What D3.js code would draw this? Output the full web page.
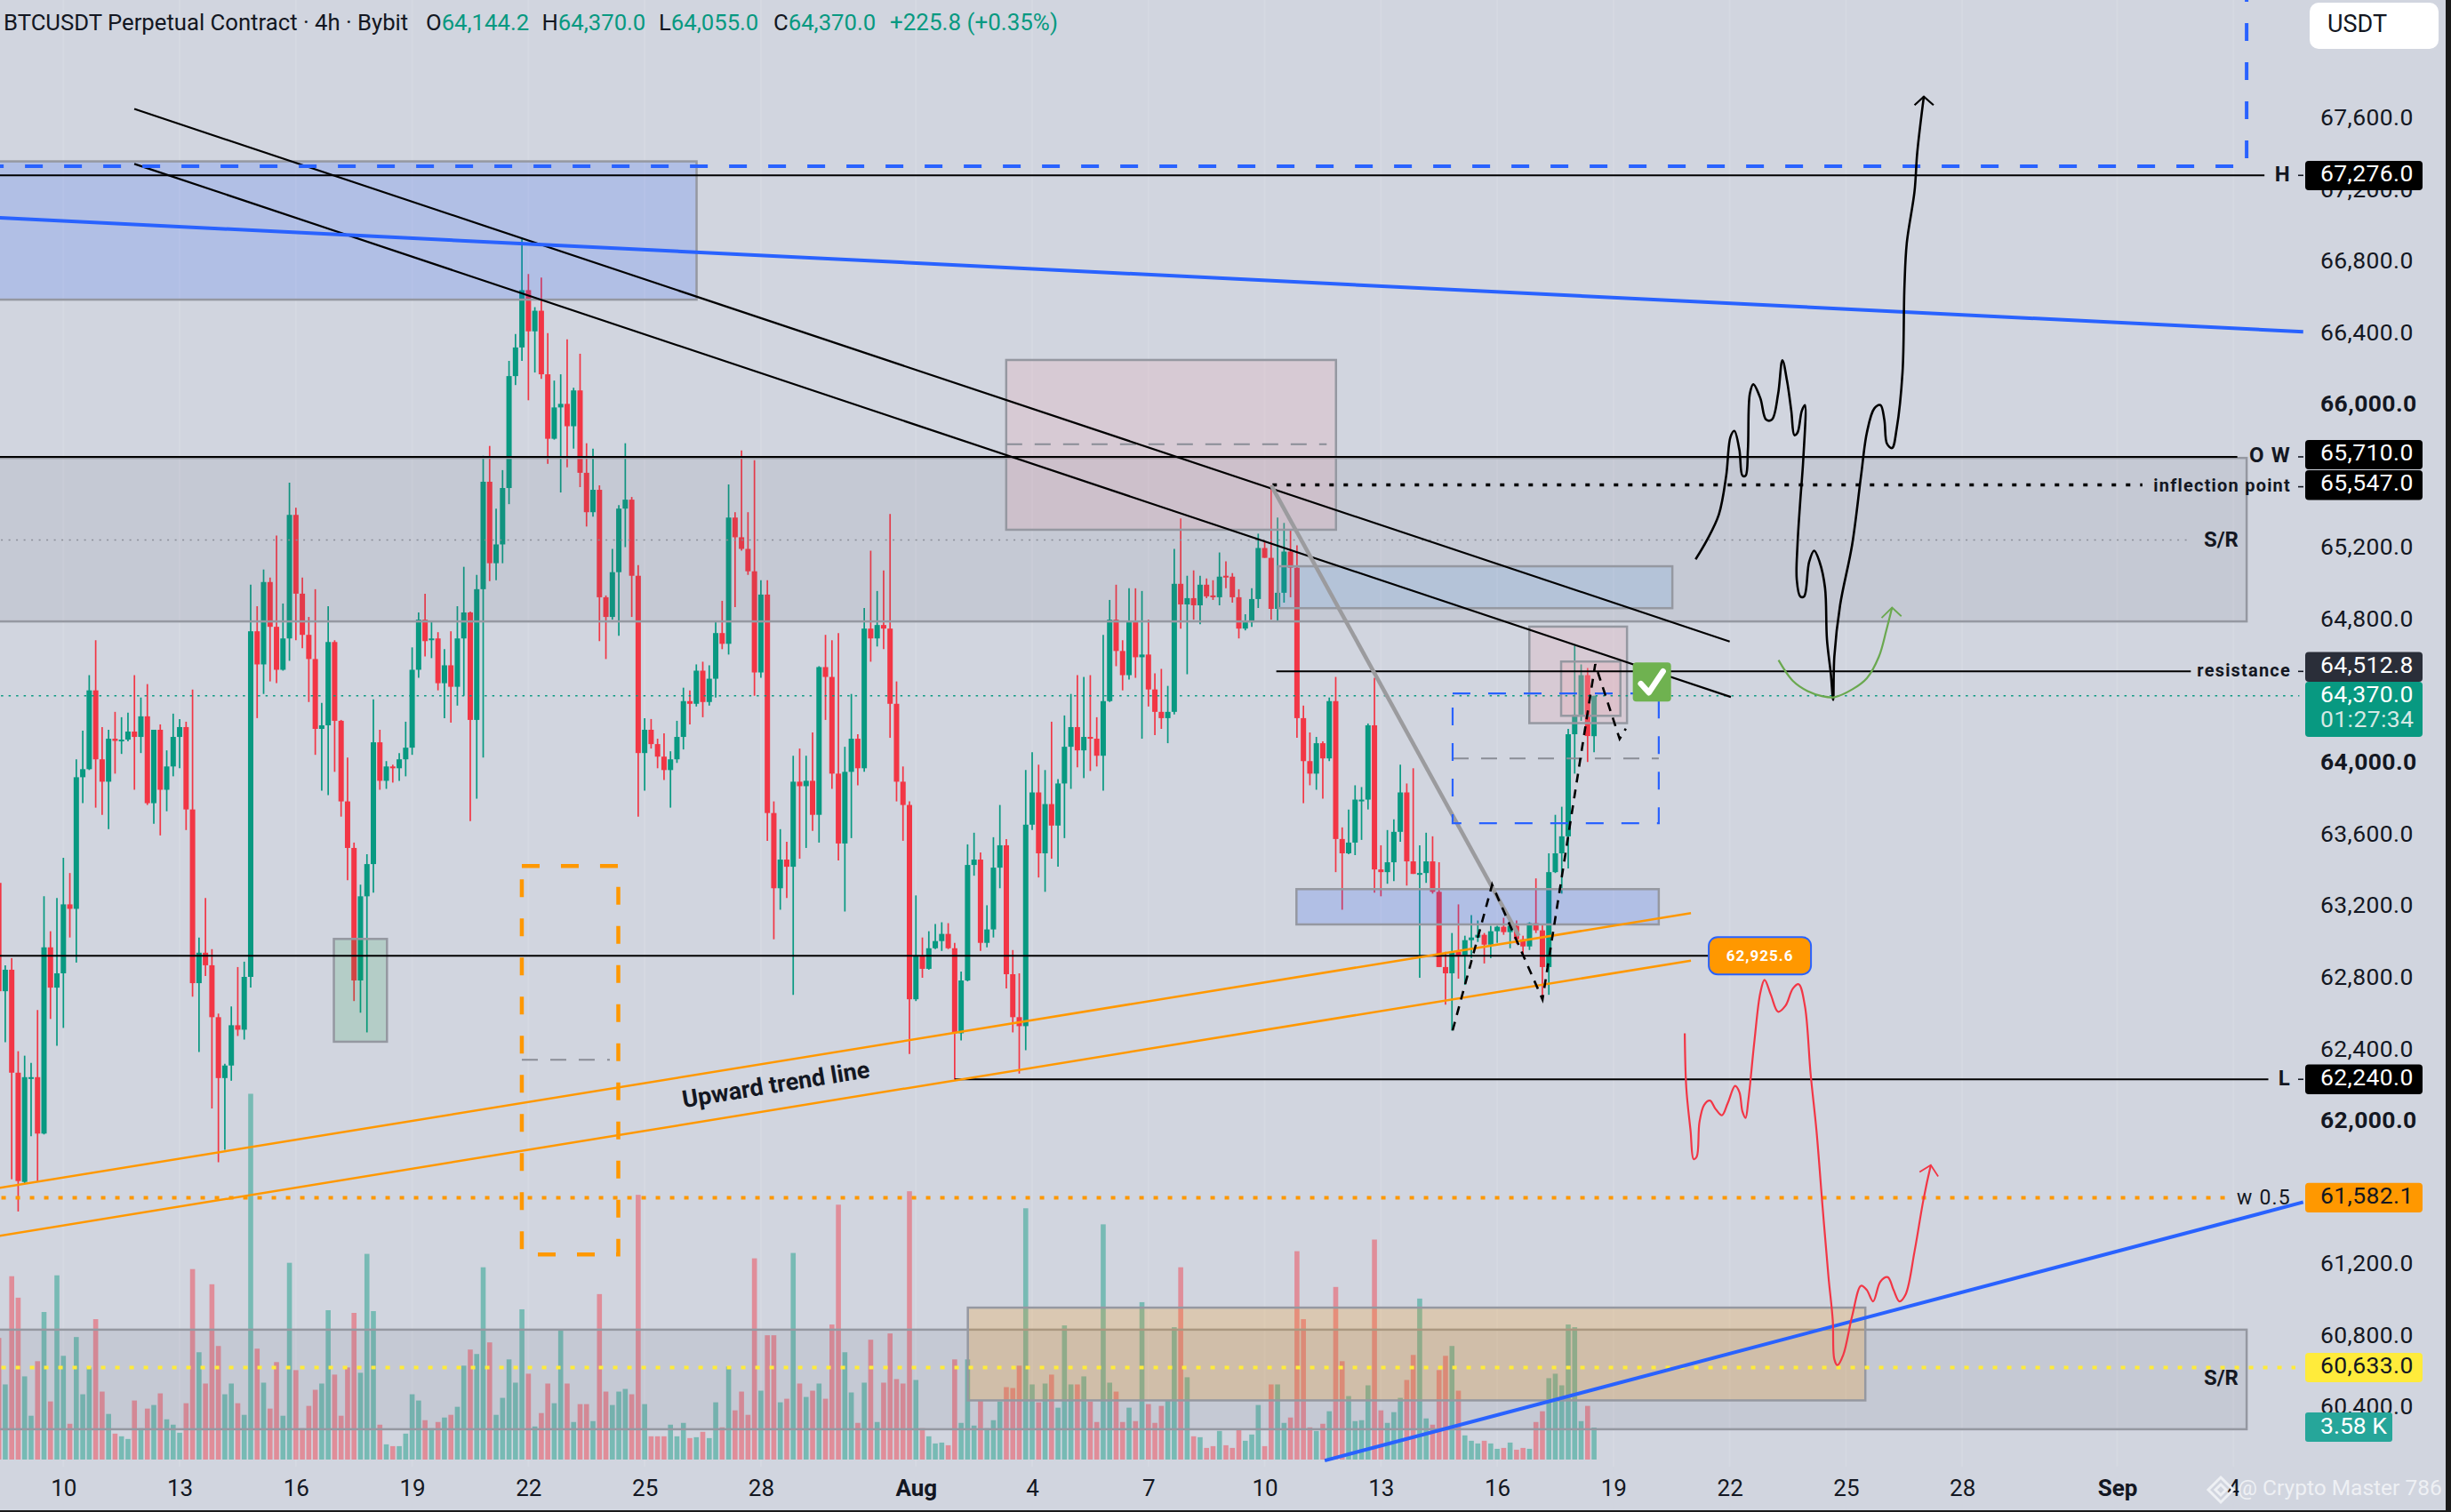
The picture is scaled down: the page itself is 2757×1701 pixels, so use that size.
<!DOCTYPE html>
<html>
<head>
<meta charset="utf-8">
<script src="https://cdn.jsdelivr.net/npm/d3@7"></script>
<style>
  html, body { margin: 0; padding: 0; background: #d1d5df; overflow: hidden; }
  text { font-family: Roboto, "Liberation Sans", sans-serif; }
</style>
</head>
<body>
<div id="chart"></div>
<script>
// 4h candles: [open, high, low, close], first bar is 8 Jul 08:00
const ohlc = [
[63325,63325,62680,62720],[62720,62865,62435,62840],[62840,62905,61670,62265],[62265,62385,61490,61660],
[61655,62360,61645,62240],[62235,62320,61910,62240],[62240,62615,61655,61925],[61925,63250,61920,62965],
[62965,63055,62565,62740],[62740,63240,62415,62820],[62820,63465,62515,63205],[63205,63380,63020,63180],
[63180,64015,62880,63915],[63915,64175,63770,63960],[63960,64485,63955,64400],[64400,64680,63745,64015],
[64015,64195,63705,63890],[63890,64180,63625,64130],[64130,64280,63935,64118],[64118,64250,64045,64125],
[64125,64275,64115,64170],[64170,64485,63845,64140],[64140,64360,64050,64255],[64255,64435,63760,63770],
[63770,64180,63655,64180],[64180,64210,63590,63845],[63845,64065,63725,63975],[63975,64270,63920,64140],
[64140,64240,63965,64195],[64195,64225,63620,63735],[63735,64405,62690,62765],[62765,63020,62380,62935],
[62935,63240,62805,62865],[62865,62955,62065,62575],[62575,62595,61765,62235],[62235,62315,61835,62305],
[62305,62635,62220,62530],[62530,62855,62470,62505],[62505,62885,62450,62800],[62800,64990,62740,64730],
[64730,64870,64245,64545],[64545,65075,64380,65005],[65005,65030,64450,64755],[64755,65265,64440,64515],
[64515,64885,64510,64690],[64690,65560,64565,65380],[65380,65420,64680,64940],[64940,65030,64635,64710],
[64710,64810,64335,64575],[64575,64965,64040,64185],[64185,64330,63840,64205],[64205,64870,63815,64670],
[64670,64680,63945,64230],[64230,64235,63695,63780],[63780,64025,63340,63520],[63520,63550,62665,62780],
[62780,63315,62600,63250],[63250,63485,62490,63430],[63430,64350,63270,64110],[64110,64180,63845,63895],
[63895,64005,63850,63975],[63975,63985,63885,63965],[63965,64050,63895,64015],[64015,64225,63920,64080],
[64080,64640,64040,64515],[64515,64835,64470,64795],[64795,64940,64590,64675],[64680,64785,64580,64690],
[64690,64725,64400,64440],[64440,64630,64245,64540],[64540,64730,64220,64420],[64420,64870,64315,64690],
[64690,65090,64370,64835],[64835,64840,63670,64235],[64235,65045,63795,64965],[64965,65710,64025,65565],
[65565,65765,65010,65110],[65110,65415,65015,65215],[65215,65630,65110,65530],[65530,66240,65440,66155],
[66155,66390,66105,66315],[66315,66930,66240,66635],[66635,66725,66020,66405],[66405,66540,66175,66520],
[66520,66705,66140,66165],[66165,66395,65665,65805],[65805,66130,65800,65980],[65980,66165,65505,66000],
[66000,66360,65645,65875],[65875,66090,65750,66075],[66075,66280,65535,65615],[65615,65780,65315,65395],
[65395,65750,65370,65520],[65520,65545,64675,64920],[64920,64930,64575,64810],[64810,65190,64795,65060],
[65060,65435,64705,65415],[65415,65780,65200,65465],[65465,65480,64810,65040],[65040,65100,63695,64050],
[64050,64245,63840,64180],[64180,64240,64075,64100],[64100,64130,63965,64030],[64030,64160,63900,63955],
[63955,64060,63745,64015],[64015,64230,63995,64140],[64140,64415,64070,64340],[64340,64400,64210,64325],
[64325,64545,64310,64510],[64510,64560,64250,64335],[64335,64540,64315,64465],[64465,64790,64360,64720],
[64720,64900,64630,64660],[64660,65550,64600,65365],[65365,65395,64865,65255],[65255,65740,65180,65190],
[65190,65395,65045,65065],[65065,65685,64370,64500],[64500,65015,64470,64935],[64935,65015,63560,63715],
[63715,63780,63010,63295],[63295,63625,63175,63455],[63455,63555,63240,63415],[63415,64035,62700,63890],
[63890,64075,63460,63865],[63865,64035,63520,63895],[63895,64165,63615,63705],[63705,64535,63550,64530],
[64530,64710,64235,64475],[64475,64680,63850,63935],[63935,64720,63450,63545],[63545,64085,63165,63945],
[63945,64380,63575,64130],[64130,64155,63870,63965],[63965,64860,63945,64745],[64745,65180,64560,64690],
[64690,64955,64645,64765],[64765,65070,64630,64745],[64745,65385,64135,64325],[64325,64450,63780,63890],
[63890,63975,63560,63760],[63760,63780,62370,62675],[62675,63255,62665,62920],[62920,63020,62795,62845],
[62845,63055,62840,62960],[62960,63095,62955,63000],[63000,63105,62945,63040],[63040,63100,62955,62960],
[62960,62990,62225,62485],[62485,62830,62445,62780],[62780,63540,62775,63425],[63425,63605,63365,63455],
[63455,63495,62945,62990],[62990,63200,62965,63065],[63065,63580,63020,63410],[63410,63760,63295,63535],
[63535,63570,62735,62815],[62815,62950,62490,62575],[62575,62820,62260,62525],[62525,63955,62390,63650],
[63650,64055,63620,63830],[63830,63985,63355,63490],[63490,63955,63275,63765],[63765,64225,63460,63645],
[63645,63905,63415,63880],[63880,64260,63575,64085],[64085,64380,63850,64195],[64195,64485,63970,64065],
[64065,64475,63910,64140],[64140,64485,63950,64130],[64130,64250,63975,64035],[64035,64710,63840,64340],
[64340,64905,64335,64795],[64795,64990,64535,64620],[64620,64680,64400,64485],[64485,64970,64460,64785],
[64785,64970,64470,64585],[64585,64955,64130,64600],[64600,64795,64310,64405],[64405,64495,64150,64280],
[64280,64520,64185,64245],[64245,64425,64105,64280],[64280,65190,64265,64995],[64995,65360,64745,64880],
[64880,65040,64490,64915],[64915,65070,64795,64875],[64875,65040,64770,64990],[64990,65025,64915,64925],
[64930,65015,64905,64920],[64920,65170,64875,65035],[65040,65120,64970,65035],[65035,65055,64890,64920],
[64920,64965,64690,64745],[64745,64825,64735,64780],[64780,64970,64755,64910],[64910,65275,64860,65195],
[65195,65230,65140,65140],[65140,65545,64795,64855],[64855,65365,64785,64945],[64945,65335,64890,65175],
[65175,65295,64920,65085],[65085,65210,64135,64245],[64245,64315,63770,64005],[64005,64165,63870,63935],
[63935,64140,63845,64105],[64105,64115,63795,64020],[64020,64360,64005,64340],[64340,64475,63385,63570],
[63570,63635,63175,63490],[63490,63735,63485,63550],[63550,63870,63480,63790],[63785,63860,63565,63790],
[63790,64215,63735,64205],[64205,64470,63270,63400],[63400,63535,63250,63385],[63385,63620,63320,63440],
[63440,63680,63335,63610],[63610,63985,63555,63830],[63830,63880,63310,63445],[63445,63965,63375,63375],
[63375,63535,62795,63380],[63380,63605,63325,63445],[63445,63585,63265,63275],[63275,63440,62855,62855],
[62855,62940,62645,62820],[62820,63045,62500,62940],[62940,63205,62790,62920],[62920,63030,62755,63005],
[63005,63145,62905,63020],[63020,63115,62995,63035],[63035,63045,62875,62980],[62980,63085,62905,63055],
[63055,63085,62990,63080],[63080,63130,63035,63050],[63050,63115,62960,63085],[63085,63115,62985,63010],
[63010,63030,62920,62970],[62970,63105,62950,63100],[63100,63350,63045,63060],[63060,63095,62690,62855],
[62855,63490,62700,63385],[63385,63705,63380,63490],[63490,63750,63265,63585],[63585,64185,63405,64155],
[64155,64650,63935,64265],[64265,64545,64230,64485],[64485,64525,64000,64145],[64144.2,64370,64055,64370]
];

// volume per bar, in thousands
const volumes = [
13.6,8.4,20.5,18.1,9.3,4.9,11.0,16.5,6.5,20.6,11.6,4.0,13.7,7.3,10.3,15.7,7.6,5.1,2.9,2.6,
2.3,6.6,3.5,5.7,6.1,7.4,4.5,3.9,3.0,6.3,21.3,12.0,8.5,19.6,12.7,7.3,8.5,6.3,5.0,40.9,
12.4,8.6,5.7,10.9,4.9,22.0,10.0,3.5,6.0,7.8,8.5,16.7,9.5,4.9,10.3,16.4,9.7,23.0,16.6,3.9,
1.7,1.5,1.5,2.9,7.3,6.6,4.4,3.5,4.2,4.7,5.0,5.9,10.5,12.3,11.8,21.5,13.1,5.0,6.9,11.2,
8.6,16.8,9.6,3.7,5.2,8.5,6.3,14.6,8.5,4.2,6.2,6.2,4.3,18.5,7.6,6.1,7.6,7.9,7.3,29.6,
6.2,2.6,2.6,2.6,3.9,2.6,4.1,2.4,2.5,3.1,2.4,6.4,3.6,10.4,5.5,7.6,5.0,22.5,7.7,13.9,
13.9,6.4,6.8,23.1,8.5,7.0,7.7,8.5,6.8,15.1,28.5,12.0,7.5,4.1,8.6,13.4,4.2,8.6,14.1,9.0,
8.5,30.0,8.9,3.5,2.6,1.8,1.9,1.6,11.2,4.1,11.2,3.8,6.6,3.5,4.4,6.5,8.1,8.0,10.5,28.1,
8.4,6.4,8.5,9.5,5.8,15.0,8.4,8.4,9.3,6.5,4.2,26.3,8.6,7.6,4.2,5.8,4.3,17.6,6.2,4.1,
6.0,6.6,14.8,21.5,9.2,2.6,2.5,1.3,1.5,3.2,1.6,1.3,3.4,2.1,2.8,6.1,1.5,8.4,8.4,4.1,
4.7,23.3,15.7,3.6,3.2,4.0,5.4,19.3,11.0,7.1,4.3,4.4,8.3,24.6,5.5,4.1,5.3,6.9,8.9,11.7,
18.0,4.6,3.9,10.0,11.6,12.7,7.7,2.7,2.1,1.8,2.1,1.8,1.2,1.3,1.9,1.1,1.3,1.2,4.2,5.4,
9.1,9.6,8.3,15.1,14.8,4.3,6.0,3.58
];

// time axis is counted in days from 10 Jul
const dayTicks = [0,3,6,9,12,15,18,22,25,28,31,34,37,40,43,46,49,53,56];
const dayLabels = ["10","13","16","19","22","25","28","Aug","4","7","10","13","16","19","22","25","28","Sep","4"];
const priceTicks = [67600,67200,66800,66400,66000,65200,64800,64000,63600,63200,62800,62400,62000,61200,60800,60400];
const boldPrices = [66000,64000,62000];

// drawings: boxes are [day from, day to, price top, price bottom]
const srZones = [[-2,56.34,65698,64785],[-2,56.34,60830,60274]];
const blueZones = [[-2,16.34,67354,66582],[31.82,41.17,63290,63093]];
const paleBlueZones = [[31.35,41.52,65093,64859]];
const pinkZones = [[24.33,32.84,66245,65297],[37.83,40.35,64756,64217],[38.65,40.18,64561,64258]];
const greenZones = [[6.98,8.35,63012,62438]];
const tanZones = [[23.34,46.5,60953,60435]];
const blueDashBox = [35.85,41.17,64383,63658];
const orangeDashBox = [11.83,14.32,63419,61250];

// segments: [day from, price from, day to, price to]
const midDashes = [[24.33,65774,32.6,65774],[35.85,64020,41.17,64020],[11.83,62337,14.1,62337]];
const levelLines = [[-2,67276,56.8,67276],[-2,65704,56.1,65704],[31.3,64506,54.9,64506],[-2,62918,42.46,62918],[23,62228,56.9,62228]];
const blackTrends = [[1.83,67647,43,64673],[1.83,67340,43.03,64363]];
const blueTrends = [[-1.64,67039,57.8,66403],[32.55,60099,57.8,61542]];
const orangeTrends = [[-1.64,61622,42,63156],[-1.64,61354,42,62891]];
const greyTrend = [31.17,65544,37.56,63029];
const topDash = [[-2,67327],[56.34,67327],[56.34,68260]];

const patternPath = [[35.85,62501],[36.87,63315],[38.17,62674],[39.53,64546],[40.16,64129],[40.32,64186]];

const blackScribble = [[42.12,65132],[42.41,65238],[42.72,65382],[42.91,65599],[43.02,65815],[43.12,65849],[43.25,65743],[43.33,65599],[43.41,65599],[43.47,65743],[43.52,66056],[43.61,66109],[43.79,66032],[43.94,65912],[44.09,65912],[44.25,66056],[44.36,66244],[44.48,66128],[44.59,65960],[44.67,65825],[44.75,65839],[44.86,65960],[44.94,65993],[44.90,65695],[44.82,65454],[44.75,65214],[44.73,65021],[44.82,64925],[44.92,64925],[45.05,65117],[45.18,65180],[45.32,65117],[45.46,64973],[45.51,64684],[45.61,64492],[45.67,64347],[45.70,64588],[45.85,64877],[46.16,65214],[46.39,65599],[46.54,65839],[46.73,65974],[46.89,65993],[46.99,65912],[47.06,65777],[47.19,65753],[47.31,65863],[47.46,66176],[47.51,66657],[47.57,66898],[47.77,67187],[47.84,67403],[48.01,67716]];
const blackArrow = [[47.77,67668],[48.01,67716],[48.26,67668]];

const redScribble = [[41.84,62485],[41.88,62181],[41.99,61941],[42.07,61782],[42.15,61796],[42.22,61989],[42.34,62085],[42.49,62109],[42.64,62061],[42.80,62027],[42.95,62095],[43.14,62191],[43.25,62157],[43.33,62047],[43.41,62013],[43.48,62109],[43.64,62446],[43.79,62711],[43.90,62783],[44.06,62701],[44.25,62605],[44.44,62639],[44.63,62735],[44.78,62759],[44.94,62639],[45.09,62254],[45.24,61941],[45.40,61508],[45.55,61123],[45.66,60882],[45.70,60665],[45.78,60632],[45.93,60689],[46.16,60906],[46.39,61075],[46.54,61051],[46.70,60988],[46.89,61099],[47.08,61123],[47.23,61051],[47.38,60988],[47.54,61027],[47.77,61267],[48.00,61556],[48.19,61749]];
const redArrow = [[47.90,61710],[48.19,61749],[48.38,61686]];

const greenCurve = [[44.26,64569],[44.63,64453],[45.01,64396],[45.40,64367],[45.70,64362],[46.16,64405],[46.54,64468],[46.85,64588],[47.04,64733],[47.19,64862]];
const greenArrow = [[46.92,64805],[47.19,64862],[47.43,64814]];

const legendLabels = ["O","H","L","C"];
const legendValues = ["64,144.2","64,370.0","64,055.0","64,370.0"];

const width = 2757, height = 1701;
const colorUp = "#089981", colorDown = "#f23645", ink = "#131722", blue = "#2962ff", orange = "#ff9800";

const x = d3.scaleLinear().domain([0, 56]).range([71.3, 2512.3]);
const y = d3.scaleLinear().domain([60400, 67600]).range([1582.5, 132]);
const vol = d3.scaleLinear().domain([0, 41]).range([1642, 1229.5]);
const fmt = d3.format(",.1f");

const svg = d3.select("#chart").append("svg")
    .attr("width", width)
    .attr("height", height)
    .style("display", "block");

svg.append("rect").attr("width", width).attr("height", height).attr("fill", "#d1d5df");

// faint grid
svg.append("g").selectAll("line").data(dayTicks).join("line")
    .attr("x1", d => x(d)).attr("x2", d => x(d))
    .attr("y1", 0).attr("y2", 1650)
    .attr("stroke", "#fff").attr("stroke-opacity", 0.1).attr("stroke-width", 2);

// Volume
const barDay = i => (i - 10) / 6;
const isUp = i => ohlc[i][3] >= ohlc[i][0];

svg.append("g").selectAll("rect").data(volumes).join("rect")
    .attr("x", (d, i) => x(barDay(i)) - 2.8)
    .attr("width", 5.6)
    .attr("y", d => vol(d))
    .attr("height", d => vol(0) - vol(d))
    .attr("fill", (d, i) => isUp(i) ? colorUp : colorDown)
    .attr("fill-opacity", 0.45);

// Candles
const candles = svg.append("g");
candles.selectAll("line").data(ohlc).join("line")
    .attr("x1", (d, i) => x(barDay(i))).attr("x2", (d, i) => x(barDay(i)))
    .attr("y1", d => y(d[1])).attr("y2", d => y(d[2]))
    .attr("stroke", (d, i) => isUp(i) ? colorUp : colorDown)
    .attr("stroke-width", 1.7);
candles.selectAll("rect").data(ohlc).join("rect")
    .attr("x", (d, i) => x(barDay(i)) - 3)
    .attr("width", 6)
    .attr("y", d => y(Math.max(d[0], d[3])))
    .attr("height", d => Math.max(2, Math.abs(y(d[0]) - y(d[3]))))
    .attr("fill", (d, i) => isUp(i) ? colorUp : colorDown);

// Boxes
function boxes(data, fill, stroke) {
    svg.append("g").selectAll("rect").data(data).join("rect")
        .attr("x", d => x(d[0]))
        .attr("width", d => x(d[1]) - x(d[0]))
        .attr("y", d => y(d[2]))
        .attr("height", d => y(d[3]) - y(d[2]))
        .attr("fill", fill)
        .attr("stroke", stroke || "#9598a1")
        .attr("stroke-width", 2.5);
}
boxes(srZones, "rgba(100,100,115,0.1)");
boxes(blueZones, "rgba(41,98,255,0.19)");
boxes(paleBlueZones, "rgba(41,150,255,0.1)");
boxes(pinkZones, "rgba(240,160,170,0.2)");
boxes(greenZones, "rgba(8,153,60,0.14)");
boxes(tanZones, "rgba(255,152,0,0.2)");

function segments(data, stroke, w, dash) {
    svg.append("g").selectAll("line").data(data).join("line")
        .attr("x1", d => x(d[0])).attr("y1", d => y(d[1]))
        .attr("x2", d => x(d[2])).attr("y2", d => y(d[3]))
        .attr("stroke", stroke)
        .attr("stroke-width", w)
        .attr("stroke-dasharray", dash || null);
}

// dotted levels
segments([[-2,64370,57.7,64370]], colorUp, 1.6, "2.5 6");
segments([[-2,65240,54.9,65240]], "#8a8d96", 1.6, "2 6.5");
segments([[31.2,65547,53.65,65547]], "#000", 3.5, "5 11");
segments([[-1.6,61566,55.85,61566]], orange, 4, "5 11");
segments([[-1.6,60619,57.6,60619]], "#ffeb3b", 4, "5 11");

segments(midDashes, "#8a8d96", 2, "18 14");
segments(levelLines, "#000", 2);
segments(blackTrends, "#000", 2.2);
segments(orangeTrends, orange, 2.5);
segments([greyTrend], "#9b9b9e", 4.5);
segments(blueTrends, blue, 4);

const line = d3.line().x(d => x(d[0])).y(d => y(d[1]));
const smooth = d3.line().x(d => x(d[0])).y(d => y(d[1])).curve(d3.curveCatmullRom);

function dashBox(b, stroke, w, dash) {
    svg.append("path")
        .attr("d", line([[b[0],b[2]],[b[1],b[2]],[b[1],b[3]],[b[0],b[3]],[b[0],b[2]]]))
        .attr("fill", "none").attr("stroke", stroke)
        .attr("stroke-width", w).attr("stroke-dasharray", dash);
}
dashBox(blueDashBox, blue, 2.2, "20 20");
dashBox(orangeDashBox, orange, 4.5, "20 24");

svg.append("path").attr("d", line(topDash))
    .attr("fill", "none").attr("stroke", blue)
    .attr("stroke-width", 4).attr("stroke-dasharray", "20 24");

svg.append("path").attr("d", line(patternPath))
    .attr("fill", "none").attr("stroke", "#000")
    .attr("stroke-width", 2.6).attr("stroke-dasharray", "10 8");

// hand drawn scenarios
[[blackScribble, blackArrow, "#000", 2.6], [redScribble, redArrow, "#f23645", 2.2], [greenCurve, greenArrow, "#6aa84f", 2.2]].forEach(s => {
    svg.append("path").attr("d", smooth(s[0]))
        .attr("fill", "none").attr("stroke", s[2]).attr("stroke-width", s[3]);
    svg.append("path").attr("d", line(s[1]))
        .attr("fill", "none").attr("stroke", s[2]).attr("stroke-width", s[3] - 0.4);
});

// check badge
const badge = svg.append("g").attr("transform", "translate(" + x(40.5) + "," + y(64447) + ")");
badge.append("rect").attr("y", -22).attr("width", 43).attr("height", 44).attr("rx", 4).attr("fill", "#6fb250");
badge.append("path").attr("d", "M9 2 L18 12 L34 -12").attr("fill", "none")
    .attr("stroke", "#fff").attr("stroke-width", 6.5).attr("stroke-linecap", "round").attr("stroke-linejoin", "round");

// price pill
const pill = svg.append("g").attr("transform", "translate(" + x(42.46) + "," + y(62918) + ")");
pill.append("rect").attr("y", -21).attr("width", 115).attr("height", 42).attr("rx", 10)
    .attr("fill", orange).attr("stroke", blue).attr("stroke-width", 2);
pill.append("text").attr("x", 57.5).attr("y", 1).attr("text-anchor", "middle").attr("dominant-baseline", "middle")
    .attr("fill", "#fff").attr("font-size", 17).attr("font-weight", 700).attr("letter-spacing", 1).text("62,925.6");

// trend line label
svg.append("text")
    .attr("transform", "translate(873,1222) rotate(-9.3)")
    .attr("text-anchor", "middle").attr("dominant-baseline", "middle")
    .attr("font-size", 27).attr("font-weight", 700).attr("fill", ink)
    .text("Upward trend line");

// Bottom axis
const xAxis = svg.append("g").attr("transform", "translate(0,1674)")
    .call(d3.axisBottom(x).tickValues(dayTicks).tickFormat((d, i) => dayLabels[i]).tickSize(0).tickPadding(0));
xAxis.select(".domain").remove();
xAxis.selectAll("text")
    .attr("y", 0).attr("dy", "0.36em")
    .attr("font-size", 26).attr("fill", ink)
    .attr("font-family", "Roboto")
    .attr("font-weight", (d, i) => /[A-Z]/.test(dayLabels[i]) ? 700 : 400);

// Right axis
const yAxis = svg.append("g").attr("transform", "translate(2610,0)")
    .call(d3.axisRight(y).tickValues(priceTicks).tickFormat(fmt).tickSize(0).tickPadding(0));
yAxis.select(".domain").remove();
yAxis.selectAll("text")
    .attr("font-size", 26.5).attr("fill", ink).attr("font-family", "Roboto")
    .attr("letter-spacing", 0.4)
    .attr("font-weight", d => boldPrices.includes(d) ? 700 : 400);

// Price tags: value, colours, box top, box height, text centre
function tag(label, fill, textFill, top, h, mid) {
    svg.append("rect").attr("x", 2593).attr("y", top).attr("width", 132).attr("height", h).attr("rx", 4).attr("fill", fill);
    svg.append("text").attr("x", 2610).attr("y", mid)
        .attr("dominant-baseline", "middle").attr("font-size", 26.5).attr("letter-spacing", 0.4).attr("fill", textFill)
        .text(label);
}
tag(fmt(67276), "#000", "#fff", 181, 33, 197);
tag(fmt(65710), "#000", "#fff", 495, 33, 511);
tag(fmt(65547), "#000", "#fff", 529, 33.5, 545);
tag(fmt(64370), colorUp, "#fff", 767, 62, 783);
tag(fmt(64512.8), "#2a2e39", "#fff", 733.6, 33.4, 750);
svg.append("text").attr("x", 2610).attr("y", 811).attr("dominant-baseline", "middle")
    .attr("font-size", 26.5).attr("letter-spacing", 0.4).attr("fill", "#d5e9e5").text("01:27:34");
tag(fmt(62240), "#000", "#fff", 1197.4, 33.6, 1214);
tag(fmt(61582.1), orange, ink, 1330.8, 33.2, 1347);
tag(fmt(60633), "#ffeb3b", ink, 1522, 33, 1538);

svg.append("rect").attr("x", 2593).attr("y", 1589).attr("width", 98).attr("height", 33).attr("rx", 3).attr("fill", "#26a69a");
svg.append("text").attr("x", 2610).attr("y", 1606).attr("dominant-baseline", "middle")
    .attr("font-size", 26.5).attr("fill", "#fff").text("3.58 K");

// Level captions
const captions = [
    ["H", 67276, 24, 700], ["O W", 65704, 24, 700], ["inflection point", 65537, 20, 700],
    ["resistance", 64506, 20, 700], ["L", 62228, 24, 700], ["w 0.5", 61557, 23, 400]
];
svg.append("g").selectAll("text").data(captions).join("text")
    .attr("x", 2577).attr("y", d => y(d[1]))
    .attr("text-anchor", "end").attr("dominant-baseline", "middle")
    .attr("font-size", d => d[2]).attr("font-weight", d => d[3]).attr("fill", ink)
    .attr("letter-spacing", 1.2)
    .text(d => d[0]);
svg.append("g").selectAll("line").data(captions.filter(d => d[0] !== "w 0.5")).join("line")
    .attr("x1", 2585).attr("x2", 2591).attr("y1", d => y(d[1])).attr("y2", d => y(d[1]))
    .attr("stroke", ink).attr("stroke-width", 1.6);

svg.append("g").selectAll("text").data([65232, 60554]).join("text")
    .attr("x", 2518).attr("y", d => y(d))
    .attr("text-anchor", "end").attr("dominant-baseline", "middle")
    .attr("font-size", 24).attr("font-weight", 700).attr("fill", ink).text("S/R");

// USDT button
svg.append("rect").attr("x", 2598).attr("y", 3).attr("width", 145).attr("height", 52).attr("rx", 10).attr("fill", "#fff");
svg.append("text").attr("x", 2618).attr("y", 29).attr("dominant-baseline", "middle")
    .attr("font-size", 27).attr("fill", ink).text("USDT");

// Header legend
svg.append("text").attr("x", 4).attr("y", 27).attr("dominant-baseline", "middle")
    .attr("font-size", 25.7).attr("fill", ink).text("BTCUSDT Perpetual Contract · 4h · Bybit");
const legendX = [479, 609.5, 741, 870];
legendLabels.forEach((l, i) => {
    const t = svg.append("text").attr("x", legendX[i]).attr("y", 27).attr("dominant-baseline", "middle")
        .attr("font-size", 25.7).attr("fill", ink).text(l);
    t.append("tspan").attr("fill", colorUp).attr("dx", 0).text(legendValues[i]);
});
svg.append("text").attr("x", 1001).attr("y", 27).attr("dominant-baseline", "middle")
    .attr("font-size", 26).attr("fill", colorUp).text("+225.8 (+0.35%)");

// Watermark
const mark = svg.append("g").attr("transform", "translate(2498,1676)");
mark.append("path").attr("d", "M0 -14 L14 0 L0 14 L-14 0 Z M0 -6 L6 0 L0 6 L-6 0 Z")
    .attr("fill", "none").attr("stroke", "#eef0f4").attr("stroke-width", 3);
svg.append("text").attr("x", 2517).attr("y", 1676).attr("dominant-baseline", "middle")
    .attr("font-size", 24.5).attr("fill", "#eef0f4").text("@ Crypto Master 786");

// screenshot edge
svg.append("rect").attr("x", 2751).attr("width", 6).attr("height", height).attr("fill", "#1a1a1a");
svg.append("rect").attr("y", 1699).attr("width", width).attr("height", 2).attr("fill", "#1a1a1a");
</script>
</body>
</html>
